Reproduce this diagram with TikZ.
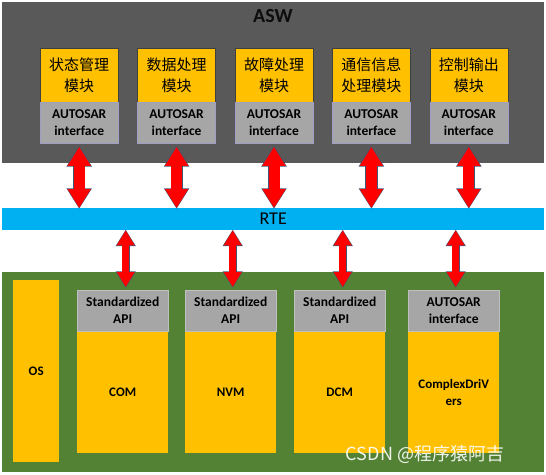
\documentclass[tikz,border=0pt]{standalone}
\usepackage{fontspec}
\setmainfont{Carlito}
\newfontfamily\cjk{Noto Sans CJK SC}
\usepackage{tikz}
\usetikzlibrary{arrows.meta,positioning,calc}
\definecolor{aswgray}{RGB}{89,89,89}
\definecolor{modyellow}{RGB}{255,192,0}
\definecolor{ifgray}{RGB}{166,166,166}
\definecolor{rteblue}{RGB}{0,176,240}
\definecolor{bswgreen}{RGB}{84,130,53}
\definecolor{arrowedge}{RGB}{65,85,120}

\begin{document}
\begin{tikzpicture}[x=1pt, y=-1pt,
    layer/.style={rectangle, anchor=north west, inner sep=0pt, minimum width=542},
    module/.style={rectangle, draw=black!75, fill=modyellow, minimum width=78, minimum height=54, inner sep=0pt, align=center, font=\cjk\fontsize{15}{21}\selectfont},
    iface/.style={rectangle, draw=blue!25!gray!60, fill=ifgray, minimum width=78, minimum height=41, inner sep=0pt, align=center, font=\bfseries\fontsize{13.5}{17}\selectfont},
    api/.style={iface, minimum width=91, draw=gray!50, anchor=north west},
    bswmod/.style={rectangle, fill=modyellow, minimum width=91, minimum height=121, inner sep=0pt, align=center, font=\bfseries\fontsize{13}{17}\selectfont},
    bigarrow/.style={draw=red, line width=11pt, arrows={Triangle[length=19pt,width=22pt]-Triangle[length=19pt,width=22pt]},
        preaction={draw=arrowedge, line width=12.2pt, arrows={Triangle[length=20.5pt,width=24pt]-Triangle[length=20.5pt,width=24pt]}, shorten <=-0.8pt, shorten >=-0.8pt}},
    smallarrow/.style={draw=red, line width=7pt, arrows={Triangle[length=15pt,width=17pt]-Triangle[length=15pt,width=17pt]},
        preaction={draw=arrowedge, line width=8.2pt, arrows={Triangle[length=16.5pt,width=19pt]-Triangle[length=16.5pt,width=19pt]}, shorten <=-0.8pt, shorten >=-0.8pt}},
    node distance=19pt
]
    \useasboundingbox (0,0) rectangle (546,474);

    % ASW layer
    \node[layer, fill=aswgray, minimum height=161] (asw) at (2,2) {};
    \node[font=\bfseries\fontsize{20}{21}\selectfont, text=black!95] (aswlabel) at (273,16) {ASW};

    % Application modules
    \node[module, anchor=north west] (state) at (40,48) {状态管理\\模块};
    \node[module, right=of state] (data) {数据处理\\模块};
    \node[module, right=of data] (fault) {故障处理\\模块};
    \node[module, right=of fault] (comm) {通信信息\\处理模块};
    \node[module, right=of comm] (ctrl) {控制输出\\模块};

    % AUTOSAR interfaces
    \node[iface, below=0pt of state] (ifstate) {AUTOSAR\\interface};
    \node[iface, below=0pt of data] (ifdata) {AUTOSAR\\interface};
    \node[iface, below=0pt of fault] (iffault) {AUTOSAR\\interface};
    \node[iface, below=0pt of comm] (ifcomm) {AUTOSAR\\interface};
    \node[iface, below=0pt of ctrl] (ifctrl) {AUTOSAR\\interface};

    % RTE
    \node[layer, fill=rteblue, minimum height=22, font=\fontsize{18}{20}\selectfont] (rte) at (2,208) {RTE};

    % BSW layer
    \node[layer, fill=bswgreen, minimum height=200] (bsw) at (2,272) {};
    \node[bswmod, minimum width=46, minimum height=182, anchor=north west] (os) at (13,280) {OS};

    \node[api] (apicom) at (77,290) {Standardized\\API};
    \node[api] (apinvm) at (185,290) {Standardized\\API};
    \node[api] (apidcm) at (294,290) {Standardized\\API};
    \node[api] (ifcdd) at (408,290) {AUTOSAR\\interface};

    \node[bswmod, below=0pt of apicom] (com) {COM};
    \node[bswmod, below=0pt of apinvm] (nvm) {NVM};
    \node[bswmod, below=0pt of apidcm] (dcm) {DCM};
    \node[bswmod, below=0pt of ifcdd] (cdd) {ComplexDriV\\ers};

    % Arrows ASW <-> RTE
    \draw[bigarrow] ([yshift=-3pt]ifstate.south) -- (ifstate.south |- rte.north);
    \draw[bigarrow] ([yshift=-3pt]ifdata.south) -- (ifdata.south |- rte.north);
    \draw[bigarrow] ([yshift=-3pt]iffault.south) -- (iffault.south |- rte.north);
    \draw[bigarrow] ([yshift=-3pt]ifcomm.south) -- (ifcomm.south |- rte.north);
    \draw[bigarrow] ([yshift=-3pt]ifctrl.south) -- (ifctrl.south |- rte.north);

    % Arrows RTE <-> BSW
    \draw[smallarrow] ([xshift=3pt]apicom.north |- rte.south) -- ([xshift=3pt,yshift=3pt]apicom.north);
    \draw[smallarrow] ([xshift=2pt]apinvm.north |- rte.south) -- ([xshift=2pt,yshift=3pt]apinvm.north);
    \draw[smallarrow] ([xshift=3pt]apidcm.north |- rte.south) -- ([xshift=3pt,yshift=3pt]apidcm.north);
    \draw[smallarrow] ([xshift=2pt]ifcdd.north |- rte.south) -- ([xshift=2pt,yshift=3pt]ifcdd.north);

    % Watermark
    \node[font=\cjk\fontsize{18}{19}\selectfont, text=white, opacity=0.9] (mark) at (425,454) {CSDN @程序猿阿吉};

\end{tikzpicture}
\end{document}
